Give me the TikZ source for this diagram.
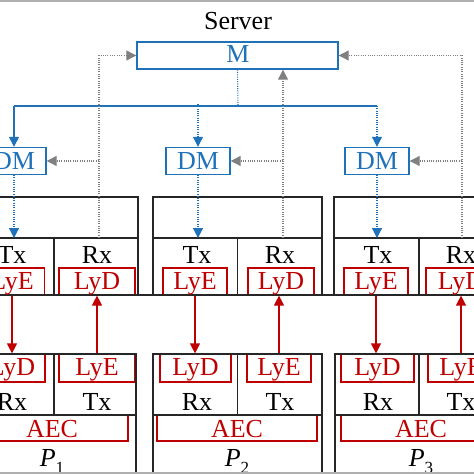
\documentclass[tikz,border=0pt]{standalone}
\usepackage{fontspec}
\setmainfont{Liberation Serif}
\usetikzlibrary{arrows.meta}
\definecolor{mblue}{RGB}{31,113,186}
\definecolor{mred}{RGB}{192,0,0}
\definecolor{mgray}{RGB}{128,128,128}
\definecolor{band}{RGB}{175,175,175}
\begin{document}
\begin{tikzpicture}[x=1bp,y=-1bp,
  txt/.style={font=\fontsize{26bp}{30bp}\selectfont, inner sep=0pt, anchor=base},
  bluetxt/.style={txt, text=mblue},
  redtxt/.style={txt, text=mred},
  bline/.style={draw=black!85, line width=1.4bp},
  bluebox/.style={draw=mblue, line width=1.4bp, inner sep=0pt, minimum height=27bp},
  redbox/.style={draw=mred, line width=1.2bp, inner sep=0pt},
  tip/.style={-{Triangle[length=10bp,width=10bp]}},
  dotline/.style={dash pattern=on 1bp off 1.3bp, line width=1.1bp},
  bluedot/.style={draw=mblue, dotline},
  bluearr/.style={bluedot, tip},
  bluesolid/.style={draw=mblue, line width=1.4bp},
  grayarr/.style={draw=mgray, dotline, tip},
  redarr/.style={draw=mred, line width=1.3bp, tip}]
\useasboundingbox (0,0) rectangle (474,474);
\clip (0,0) rectangle (474,474);

% rows
\coordinate (row1) at (0,238);
\coordinate (hub) at (238,106);

% server
\node[txt] (server) at (238,30) {Server};
\node[bluebox, minimum width=201bp] (M) at (237.5,55.5) {};
\node[bluetxt] (Mt) at (238,63) {M};

% DM boxes
\node[bluebox, minimum width=64bp] (DM1) at (14,161) {};
\node[bluebox, minimum width=64bp] (DM2) at (198,161) {};
\node[bluebox, minimum width=64bp] (DM3) at (377,161) {};
\node[bluetxt] (DM1t) at (14,170) {DM};
\node[bluetxt] (DM2t) at (198,170) {DM};
\node[bluetxt] (DM3t) at (377,170) {DM};

% red boxes upper
\node[redbox, minimum width=65bp, minimum height=27bp] (ue1) at (12,281.5) {};
\node[redbox, minimum width=76bp, minimum height=27bp] (ud1) at (97,281.5) {};
\node[redbox, minimum width=64bp, minimum height=27bp] (ue2) at (195,281.5) {};
\node[redbox, minimum width=66bp, minimum height=27bp] (ud2) at (281,281.5) {};
\node[redbox, minimum width=64bp, minimum height=27bp] (ue3) at (376,281.5) {};
\node[redbox, minimum width=70bp, minimum height=27bp] (ud3) at (461,281.5) {};
% red boxes lower
\node[redbox, minimum width=66bp, minimum height=28bp] (ld1) at (12,368) {};
\node[redbox, minimum width=76bp, minimum height=28bp] (le1) at (97,368) {};
\node[redbox, minimum width=71bp, minimum height=28bp] (ld2) at (195.5,368) {};
\node[redbox, minimum width=64bp, minimum height=28bp] (le2) at (279,368) {};
\node[redbox, minimum width=73bp, minimum height=28bp] (ld3) at (377.5,368) {};
\node[redbox, minimum width=66bp, minimum height=28bp] (le3) at (461,368) {};
% AEC boxes
\node[redbox, minimum width=152bp, minimum height=26bp] (aec1) at (52,428) {};
\node[redbox, minimum width=160bp, minimum height=26bp] (aec2) at (237,428) {};
\node[redbox, minimum width=160bp, minimum height=26bp] (aec3) at (421,428) {};

% upper blocks
\draw[bline] (-31,197) rectangle (138,295);
\draw[bline] (153,197) rectangle (322,295);
\draw[bline] (334,197) rectangle (503,295);
\draw[bline] (-31,238) -- (138,238) (54,238) -- (54,295);
\draw[bline] (153,238) -- (322,238) (237.5,238) -- (237.5,295);
\draw[bline] (334,238) -- (503,238) (419,238) -- (419,295);
\draw[bline] (0,295) -- (474,295);
% lower blocks
\draw[bline] (-31,354) rectangle (136,500);
\draw[bline] (153,354) rectangle (322,500);
\draw[bline] (335,354) rectangle (503,500);
\draw[bline] (-31,415) -- (136,415) (54,354) -- (54,415);
\draw[bline] (153,415) -- (322,415) (237.5,354) -- (237.5,415);
\draw[bline] (335,415) -- (503,415) (419,354) -- (419,415);

% texts upper
\node[txt] (tx1) at (12,263) {Tx};
\node[txt] (rx1) at (97,263) {Rx};
\node[txt] (tx2) at (197,263) {Tx};
\node[txt] (rx2) at (280,263) {Rx};
\node[txt] (tx3) at (378,263) {Tx};
\node[txt] (rx3) at (461,263) {Rx};
\node[redtxt] (ue1t) at (12,289) {LyE};
\node[redtxt] (ud1t) at (97,289) {LyD};
\node[redtxt] (ue2t) at (195,289) {LyE};
\node[redtxt] (ud2t) at (281,289) {LyD};
\node[redtxt] (ue3t) at (376,289) {LyE};
\node[redtxt] (ud3t) at (461,289) {LyD};
% texts lower
\node[redtxt] (ld1t) at (12,375) {LyD};
\node[redtxt] (le1t) at (97,375) {LyE};
\node[redtxt] (ld2t) at (195.5,375) {LyD};
\node[redtxt] (le2t) at (279,375) {LyE};
\node[redtxt] (ld3t) at (377.5,375) {LyD};
\node[redtxt] (le3t) at (461,375) {LyE};
\node[txt] (lrx1) at (12,410) {Rx};
\node[txt] (ltx1) at (97,410) {Tx};
\node[txt] (lrx2) at (197,410) {Rx};
\node[txt] (ltx2) at (280,410) {Tx};
\node[txt] (lrx3) at (378,410) {Rx};
\node[txt] (ltx3) at (461,410) {Tx};
\node[redtxt] (aec1t) at (52,437) {AEC};
\node[redtxt] (aec2t) at (237,437) {AEC};
\node[redtxt] (aec3t) at (421,437) {AEC};
\newcommand{\psub}[1]{\textit{P}\raisebox{-0.3em}{\fontsize{17bp}{17bp}\selectfont #1}}
\node[txt] (p1) at (52,466) {\psub{1}};
\node[txt] (p2) at (237,466) {\psub{2}};
\node[txt] (p3) at (421,466) {\psub{3}};

% blue connectors
\draw[bluedot] (M.south) -- (hub);
\draw[bluesolid] (DM1.north |- hub) -- (DM3.north |- hub);
\draw[bluesolid, tip] (DM1.north |- hub) -- (DM1.north);
\draw[bluearr] ([yshift=2bp]DM2.north |- hub) -- (DM2.north);
\draw[bluearr] (DM3.north |- hub) -- (DM3.north);
\draw[bluearr] (DM1.south) -- (DM1.south |- row1);
\draw[bluearr] (DM2.south) -- (DM2.south |- row1);
\draw[bluearr] (DM3.south) -- (DM3.south |- row1);

% gray connectors
\coordinate (g1) at (99,238);
\coordinate (g2) at (283,238);
\coordinate (g3) at (462,238);
\draw[grayarr] (g1) |- (M.west);
\draw[grayarr] (g2) -- (g2 |- M.south);
\draw[grayarr] (g3) |- (M.east);
\draw[grayarr] (g1 |- DM1.east) -- (DM1.east);
\draw[grayarr] (g2 |- DM2.east) -- (DM2.east);
\draw[grayarr] (g3 |- DM3.east) -- (DM3.east);

% red connectors
\draw[redarr] (ue1.south) -- (ue1.south |- ld1.north);
\draw[redarr] (ue2.south) -- (ue2.south |- ld2.north);
\draw[redarr] (ue3.south) -- (ue3.south |- ld3.north);
\draw[redarr] (le1.north) -- (le1.north |- ud1.south);
\draw[redarr] (le2.north) -- (le2.north |- ud2.south);
\draw[redarr] (le3.north) -- (le3.north |- ud3.south);

% scan bands
\fill[band] (0,0) rectangle (474,2);
\fill[band] (0,472) rectangle (474,474);
\end{tikzpicture}
\end{document}
